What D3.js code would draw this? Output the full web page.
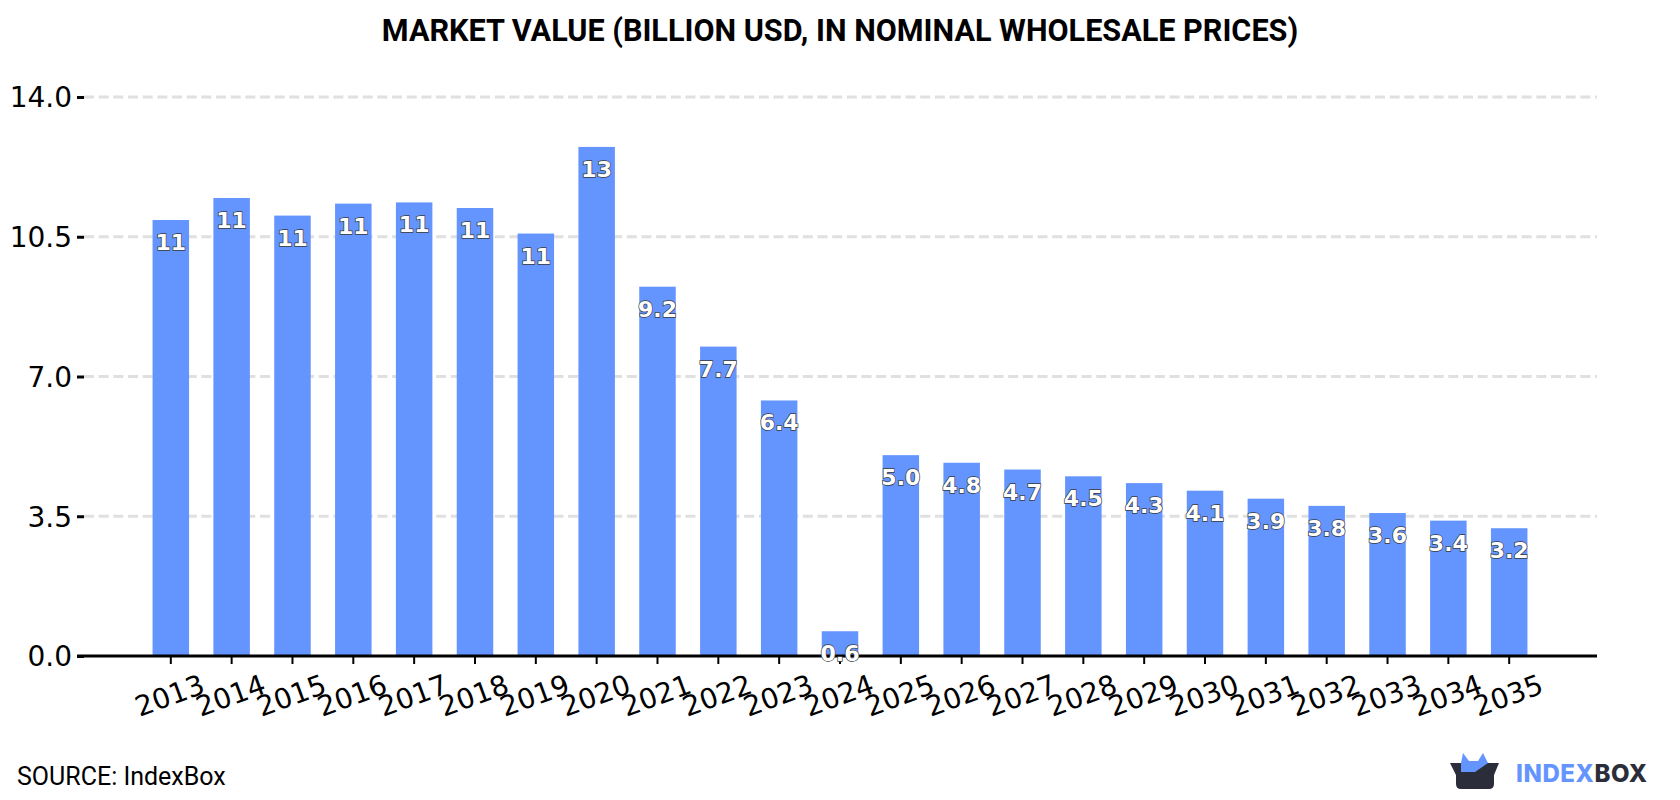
<!DOCTYPE html>
<html>
<head>
<meta charset="utf-8">
<script src="https://cdn.jsdelivr.net/npm/d3@7/dist/d3.min.js"></script>
<style>
html, body { margin: 0; padding: 0; background: #fff; }
svg { display: block; }
</style>
</head>
<body>
<svg id="chart" width="1680" height="800"></svg>
<script>
const years = ["2013","2014","2015","2016","2017","2018","2019","2020","2021","2022","2023","2024","2025","2026","2027","2028","2029","2030","2031","2032","2033","2034","2035"];
const marketValue = [10.92,11.47,11.03,11.33,11.36,11.22,10.58,12.75,9.249,7.749,6.4,0.62,5.03,4.84,4.67,4.5,4.33,4.14,3.94,3.76,3.58,3.39,3.2];
const yTicks = [0, 3.5, 7, 10.5, 14];
const titleText = "MARKET VALUE (BILLION USD, IN NOMINAL WHOLESALE PRICES)";
const sourceText = "SOURCE: IndexBox";

const barColor = "#6495ff", ink = "#000", gridColor = "#e0e0e0", logoDark = "#2b2d3a";
const svg = d3.select("#chart");

const plotLeft = 84, plotRight = 1597, plotTop = 97, plotBottom = 656;
const x = d3.scaleBand().domain(years).range([plotLeft - 0.8, plotRight - 0.2]).paddingInner(0.4).paddingOuter(1.14);
const y = d3.scaleLinear().domain([0, 14]).range([plotBottom, plotTop]);

svg.append("text")
  .attr("x", 840).attr("y", 41).attr("text-anchor", "middle")
  .attr("font-family", "Roboto").attr("font-weight", 700).attr("font-size", 30.6)
  .attr("fill", ink).text(titleText);

// horizontal grid, drawn under the bars
svg.append("g").selectAll("line").data(yTicks.filter(d => d > 0)).join("line")
  .attr("x1", plotLeft).attr("x2", plotRight)
  .attr("y1", d => y(d)).attr("y2", d => y(d))
  .attr("stroke", gridColor).attr("stroke-width", 3).attr("stroke-dasharray", "10 4.67");

svg.append("g").selectAll("rect").data(marketValue).join("rect")
  .attr("x", (d, i) => x(years[i])).attr("width", x.bandwidth())
  .attr("y", d => y(d)).attr("height", d => plotBottom - y(d))
  .attr("fill", barColor);

const yAxis = svg.append("g").attr("transform", `translate(${plotLeft},0)`)
  .call(d3.axisLeft(y).tickValues(yTicks).tickFormat(d3.format(".1f")).tickSize(7).tickPadding(5));
yAxis.select(".domain").remove();
yAxis.selectAll("line").attr("stroke", ink).attr("stroke-width", 3);
yAxis.selectAll("text").attr("font-family", "DejaVu Sans").attr("font-size", 28).attr("fill", ink)
  .attr("transform", "translate(0,1)");

const xAxis = svg.append("g").attr("transform", `translate(0,${plotBottom})`)
  .call(d3.axisBottom(x).tickSize(8).tickPadding(8));
xAxis.select(".domain").attr("d", `M${plotLeft - 7},0H${plotRight}`).attr("stroke", ink).attr("stroke-width", 3);
xAxis.selectAll("line").attr("stroke", ink).attr("stroke-width", 2);
xAxis.selectAll("text")
  .attr("font-family", "DejaVu Sans").attr("font-size", 28).attr("fill", ink)
  .attr("text-anchor", "middle")
  .attr("dy", "0.71em")
  .attr("transform", "translate(-10,15) rotate(-20)");

// value labels sit just inside the top of each bar
svg.append("g").selectAll("text").data(marketValue).join("text")
  .attr("x", (d, i) => x(years[i]) + x.bandwidth() / 2)
  .attr("y", d => y(d) + 30)
  .attr("text-anchor", "middle")
  .attr("font-family", "DejaVu Sans").attr("font-weight", 700).attr("font-size", 22)
  .attr("fill", "#fff").attr("stroke", "#3a3a3a").attr("stroke-width", 1.4)
  .attr("paint-order", "stroke")
  .text(d => d >= 10 ? d3.format(".0f")(d) : d3.format(".1f")(d));

svg.append("text")
  .attr("x", 17).attr("y", 785)
  .attr("font-family", "Roboto").attr("font-size", 25).attr("fill", ink).text(sourceText);

// brand mark: a box with a blue shape rising out of it
const logo = svg.append("g").attr("transform", "translate(1420,730)");
logo.append("path").attr("fill", logoDark)
  .attr("d", "M30,33 H79 L74,45 V54 Q74,59 69,59 H41 Q36,59 36,54 V45 Z");
logo.append("path").attr("fill", barColor)
  .attr("d", "M41,33 L43,23 L49,31 H58 L63,23 L68,33 L55,42 H41 Z");
logo.append("text").attr("x", 96).attr("y", 52)
  .attr("font-family", "Inter").attr("font-weight", 800).attr("font-size", 24).attr("letter-spacing", 0.6)
  .attr("fill", barColor).text("INDEX")
  .append("tspan").attr("fill", logoDark).text("BOX");
</script>
</body>
</html>
